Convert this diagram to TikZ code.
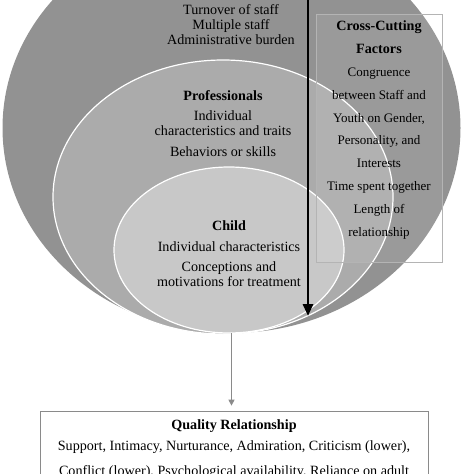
\documentclass[tikz,border=0pt]{standalone}
\usepackage{fontspec}
\setmainfont{Liberation Serif}
\usetikzlibrary{shapes.geometric,arrows.meta}
\definecolor{ringouter}{HTML}{929292}
\definecolor{ringmid}{HTML}{ABABAB}
\definecolor{ringinner}{HTML}{C8C8C8}
\definecolor{framegray}{HTML}{B4B4B4}
\definecolor{arrowgray}{HTML}{8A8A8A}

\begin{document}
\begin{tikzpicture}[
        x=0.75pt, y=-0.75pt,
        ring/.style={ellipse, inner sep=0pt, outer sep=0pt},
        inring/.style={ring, draw=white, line width=0.9pt},
        words/.style={align=center, inner sep=0pt, font=\fontsize{10.6}{11.25}\selectfont},
        crosswords/.style={align=center, inner sep=0pt, font=\fontsize{9.75}{17.1}\selectfont},
        frame/.style={draw=framegray, line width=0.6pt}
        ]
        \useasboundingbox (0,0) rectangle (474,474);
        \clip (0,0) rectangle (474,474);

        % Nested ellipses
        \node[ring, fill=ringouter, minimum width=343.5pt, minimum height=307.5pt] (system) at (231.5,128) {};
        \node[inring, fill=ringmid, minimum width=255pt, minimum height=205.5pt] (prof) at (223,197) {};
        \node[inring, fill=ringinner, minimum width=172.5pt, minimum height=124.5pt] (child) at (229,250) {};

        \node[words] (systemtext) at (231,25) {Turnover of staff\\Multiple staff\\Administrative burden};
        \node[words] (proftext) at (223,123.5) {\textbf{Professionals}\\[4pt]Individual\\characteristics and traits\\[4.5pt]Behaviors or skills};
        \node[words] (childtext) at (229,253.5) {\textbf{Child}\\[4.5pt]Individual characteristics\\[4pt]Conceptions and\\motivations for treatment};

        % Cross-cutting factors
        \node[frame, fill=white, fill opacity=0.08, inner sep=0pt, minimum width=94.5pt, minimum height=186pt] (crossbox) at (379,138) {};
        \node[crosswords] (crosstext) at (379,130) {\textbf{\fontsize{10.6}{17.1}\selectfont Cross-Cutting}\\\textbf{\fontsize{10.6}{17.1}\selectfont Factors}\\Congruence\\between Staff and\\Youth on Gender,\\Personality, and\\Interests\\Time spent together\\Length of\\relationship};

        \coordinate (flowtop) at (308,-4);
        \coordinate (flowend) at (308,316);
        \draw[line width=2.2pt, -{Triangle[length=9pt,width=7.5pt]}] (flowtop) -- (flowend);

        % Outcome
        \node[frame, draw=arrowgray, fill=white, anchor=north, align=center, minimum width=291pt, inner xsep=5pt, inner ysep=6.5pt, text depth=60pt, font=\fontsize{10.6}{18.75}\selectfont] (quality) at (234,411) {\textbf{Quality Relationship}\\[-3pt]Support, Intimacy, Nurturance, Admiration, Criticism (lower),\\Conflict (lower), Psychological availability, Reliance on adult};

        \draw[draw=arrowgray, line width=0.6pt, -{Triangle[length=4.5pt,width=4.5pt]}, shorten >=4pt] (system.south) -- (system.south |- quality.north);
\end{tikzpicture}
\end{document}
